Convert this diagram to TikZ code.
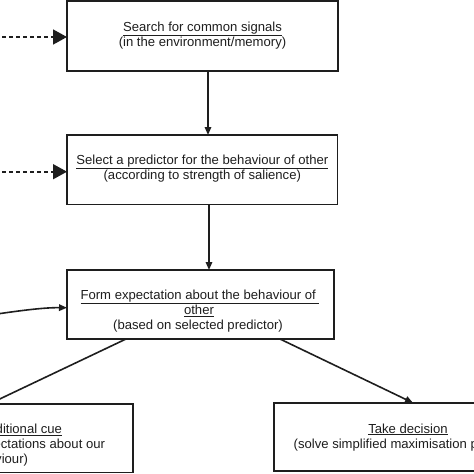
\documentclass[tikz,border=0pt]{standalone}
\usepackage{fontspec}
\setmainfont{Liberation Sans}
\usetikzlibrary{arrows.meta}
\definecolor{ink}{RGB}{30,30,30}
\begin{document}
\begin{tikzpicture}[x=1pt,y=-1pt,
  box/.style={draw=ink,line width=1.6pt,fill=white,rectangle,inner sep=0pt,outer sep=0pt},
  txt/.style={inner sep=0pt,outer sep=0pt,anchor=base,text=ink,font=\fontsize{13.1}{15}\selectfont},
  rtxt/.style={txt,anchor=base east},
  flow/.style={draw=ink,line width=1.6pt,-{Triangle[length=8pt,width=6.5pt]}},
  cue/.style={draw=ink,line width=1.6pt,dash pattern=on 4pt off 3pt,-{Triangle[length=14pt,width=15pt]}}]
\useasboundingbox (0,0) rectangle (474,474);
\clip (0,0) rectangle (474,474);
% boxes
\node[box,minimum width=271pt,minimum height=70.2pt] (b1) at (202.5,35.9) {};
\node[box,minimum width=270.5pt,minimum height=69.5pt] (b2) at (202.25,169.75) {};
\node[box,minimum width=267pt,minimum height=69pt] (b3) at (200.5,304.5) {};
\node[box,minimum width=269.4pt,minimum height=68.5pt] (b4) at (-2,438.2) {};
\node[box,minimum width=270pt,minimum height=68.3pt] (b5) at (409,437) {};
% texts
\node[txt] (t1a) at (202.5,31) {\underline{Search for common signals}};
\node[txt] (t1b) at (202.5,46) {(in the environment/memory)};
\node[txt] (t2a) at (202.3,164.5) {\underline{Select a predictor for the behaviour of other}};
\node[txt] (t2b) at (202.3,179.5) {(according to strength of salience)};
\node[txt] (t3a) at (200,299.5) {\underline{Form expectation about the behaviour of\ }};
\node[txt] (t3b) at (199,314.5) {\underline{other}};
\node[txt] (t3c) at (198,329.5) {(based on selected predictor)};
\node[rtxt] (t4a) at (62,433.5) {\underline{Additional cue}};
\node[rtxt] (t4b) at (105,448.5) {expectations about our};
\node[rtxt] (t4c) at (28,463.5) {behaviour)};
\node[txt] (t5a) at (408,433) {\underline{Take decision}};
\node[txt] (t5b) at (408,448) {(solve simplified maximisation problem)};
% connectors
\coordinate (s1) at (-5,37);
\coordinate (s2) at (-5,171.7);
\coordinate (fb) at (-30,318);
\coordinate (a1) at (208,0);
\coordinate (a2) at (209,0);
\draw[cue] (s1) -- (b1.west |- s1);
\draw[cue] (s2) -- (b2.west |- s2);
\draw[flow] (b1.south -| a1) -- (b2.north -| a1);
\draw[flow] (b2.south -| a2) -- (b3.north -| a2);
\draw[flow] (fb) .. controls (10,312) and (40,307.5) .. ([yshift=-3.2pt]b3.west);
\draw[flow] ([xshift=-74.5pt]b3.south) -- ([xshift=-8.7pt]b4.north);
\draw[flow] ([xshift=79.5pt]b3.south) -- ([xshift=4pt]b5.north);
\end{tikzpicture}
\end{document}
